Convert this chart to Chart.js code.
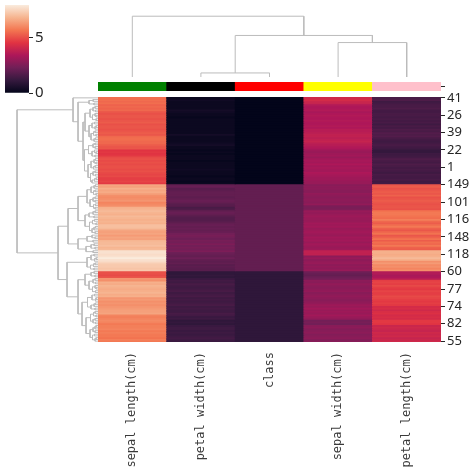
<!DOCTYPE html>
<html>
<head>
<meta charset="utf-8">
<script src="https://cdn.jsdelivr.net/npm/chart.js@4"></script>
<style>
  html, body { margin: 0; padding: 0; background: #fff; overflow: hidden; }
  canvas { position: absolute; display: block; }
</style>
</head>
<body>
<canvas id="colorbar" style="left:0;top:0"></canvas>
<canvas id="colDendro" style="left:98px;top:0"></canvas>
<canvas id="colStrip" style="left:98px;top:82px"></canvas>
<canvas id="rowDendro" style="left:0;top:97px"></canvas>
<canvas id="heatmap" style="left:98px;top:87px"></canvas>
<script>
const columns = ["sepal length(cm)", "petal width(cm)", "class", "sepal width(cm)", "petal length(cm)"];
const stripColors = ["#008000", "#000000", "#ff0000", "#ffff00", "#ffc0cb"];
const rowLabels = ["41", "26", "39", "22", "1", "149", "101", "116", "148", "118", "60", "77", "74", "82", "55"];
const colorbarTicks = [0, 5];
const valueMax = 7.9;

// rows are in the clustered order, top to bottom
const sepalLength = [
  5.5,5.5,5.4,5.5,5.3,5.4,5.3,5.4,5.1,5.0,5.1,5.1,5.0,5.1,5.2,5.0,5.1,5.1,5.0,5.1,5.2,5.1,
  5.4,5.5,5.5,5.4,5.4,5.2,5.1,5.1,4.5,4.6,4.5,4.6,4.9,5.0,4.9,5.0,4.9,5.0,5.0,4.9,5.0,4.9,4.8,4.9,4.7,4.7,4.8,4.6,
  6.5,6.4,6.7,6.5,6.6,6.4,6.1,6.0,6.1,6.2,5.9,6.0,6.1,6.7,6.8,6.9,6.8,6.7,6.9,6.8,6.7,
  6.8,6.7,7.0,7.0,6.9,6.5,6.4,6.5,6.3,6.5,6.4,6.8,6.9,6.9,7.0,6.8,6.9,7.7,7.7,7.6,7.7,7.9,7.7,7.6,7.3,7.2,7.2,7.1,7.2,
  5.0,5.0,4.9,5.1,6.2,6.1,6.7,6.6,6.8,6.7,6.6,6.7,6.8,6.6,6.7,6.2,6.3,6.1,6.2,6.1,6.2,6.3,6.4,6.4,6.5,
  5.9,5.8,5.9,6.0,5.9,5.7,5.8,5.8,5.9,5.7,5.8,5.7,5.7,5.6,5.8,5.7
];
const petalWidth = [
  0.2,0.3,0.2,0.2,0.2,0.2,0.2,0.4,0.3,0.2,0.2,0.1,0.2,0.2,0.2,0.2,0.2,0.2,0.2,0.2,
  0.2,0.4,0.2,0.2,0.2,0.2,0.3,0.4,0.2,0.2,0.1,0.2,0.1,0.2,0.2,0.2,0.1,0.2,0.2,0.2,
  0.2,0.3,0.2,0.2,0.2,0.1,0.2,0.2,0.1,0.2,
  2.0,2.1,1.8,1.9,2.0,2.0,2.0,1.9,2.0,2.1,2.0,1.8,1.8,1.5,1.6,2.0,2.1,2.0,1.8,1.7,1.7,1.8,
  2.0,2.1,2.0,2.1,2.0,2.1,2.3,2.4,2.3,2.2,2.4,2.3,2.5,2.3,2.4,2.3,2.5,2.2,2.1,2.0,2.2,2.0,1.9,2.0,1.8,1.9,1.8,1.8,
  1.0,1.0,1.1,1.0,1.2,1.4,1.3,1.5,1.4,1.3,1.4,1.5,1.3,1.4,1.5,1.3,1.4,1.3,1.4,1.5,1.3,1.4,1.3,
  1.3,1.5,1.4,1.2,1.3,1.0,1.1,1.0,1.2,1.3,1.3,1.2,1.3,1.2,1.3,1.4,1.3,1.2
];
const classValues = [
  0,0,0,0,0,0,0,0,0,0,0,0,0,0,0,0,0,0,0,0,0,0,0,0,0,0,0,0,0,0,0,0,0,0,0,0,0,0,0,0,0,0,0,0,0,0,0,0,0,0,
  2,2,2,2,2,2,2,2,2,2,2,2,2,2,2,2,2,2,2,2,2,2,2,2,2,2,2,2,2,2,2,2,2,2,2,2,2,2,2,2,2,2,2,2,2,2,2,2,2,2,
  1,1,1,1,1,1,1,1,1,1,1,1,1,1,1,1,1,1,1,1,1,1,1,1,1,1,1,1,1,1,1,1,1,1,1,1,1,1,1,1,1
];
const sepalWidth = [
  4.1,4.2,4.0,3.9,3.5,3.4,3.4,3.5,3.3,3.4,3.5,3.4,3.4,3.5,3.4,3.4,3.5,3.4,3.6,3.6,
  3.7,3.8,3.8,3.7,3.8,3.9,3.7,3.6,3.5,3.4,3.1,3.0,3.1,3.2,3.0,3.2,3.3,3.2,3.4,3.2,3.3,3.2,3.2,3.4,3.3,3.2,3.1,3.1,3.0,3.0,
  2.7,2.8,2.8,2.7,2.7,2.9,2.8,2.7,2.8,2.8,2.7,2.9,2.5,2.4,2.5,3.0,2.9,3.0,3.1,3.0,3.0,
  3.0,3.2,3.1,3.2,3.0,3.1,3.2,3.1,3.0,3.2,3.1,3.2,3.0,3.2,3.1,3.0,3.1,3.8,3.8,3.8,2.8,3.0,2.8,2.9,3.0,2.8,2.9,2.8,3.0,
  2.2,2.1,2.0,2.2,2.3,2.8,2.7,2.9,2.8,2.7,2.8,2.9,2.7,2.8,2.9,2.8,2.7,2.8,2.9,
  3.1,3.0,3.2,3.0,3.1,3.0,3.2,3.0,2.9,2.3,2.4,2.3,2.7,2.8,2.6,2.7,2.8,2.6,2.7,2.8,2.6,2.7
];
const petalLength = [
  1.5,1.6,1.3,1.4,1.5,1.5,1.6,1.4,1.4,1.5,1.5,1.4,1.5,1.4,1.5,1.3,1.5,1.4,1.6,1.5,
  1.7,1.6,1.7,1.5,1.4,1.3,1.4,1.5,1.4,1.3,1.1,1.1,1.3,1.3,1.4,1.6,1.5,1.4,1.6,1.5,
  1.4,1.5,1.4,1.3,1.5,1.4,1.4,1.5,1.3,1.4,
  5.1,5.2,5.0,5.1,5.2,5.1,5.3,5.0,5.1,5.2,5.1,5.0,5.1,5.1,5.0,5.6,5.7,5.7,
  5.6,5.5,5.8,5.4,5.2,5.5,5.7,5.3,5.1,5.4,5.6,5.1,5.3,5.6,5.2,5.5,5.4,5.7,5.3,5.2,
  6.7,6.7,6.6,6.7,6.9,6.7,6.1,6.3,6.0,6.1,5.9,6.1,
  3.5,3.5,3.3,3.4,3.6,4.7,4.8,4.7,4.9,4.7,4.6,4.8,4.7,4.7,4.9,4.8,4.7,4.6,4.7,4.6,
  4.2,4.3,4.1,4.3,4.4,4.2,4.3,4.2,4.6,4.6,4.5,4.0,4.1,4.0,3.9,4.1,4.0,4.1,3.9,4.0,4.1
];
const columnValues = [sepalLength, petalWidth, classValues, sepalWidth, petalLength];

// dendrograms: node = [merge distance, child, child], a 0 child is one leaf
const colTree = [60, 0, [41, [4, 0, 0], [34, 0, 0]]];

const setosaTree = [2.5, 0, [2.0,
  [0.9, [0.5, 0, 0], [0.4, 0, 0]],
  [1.5,
    [1.3,
      [0.8, [0.5, [0.3, 0, 0], [0.25, 0, 0]], [0.55, [0.3, 0, [0.2, 0, 0]], [0.2, 0, 0]]],
      [0.9, [0.6, [0.35, 0, 0], [0.3, [0.2, 0, 0], 0]], [0.7, [0.45, [0.3, 0, 0], [0.2, 0, 0]], [0.4, [0.25, 0, 0], 0]]]],
    [1.35,
      [0.95, [0.5, [0.3, 0, 0], [0.3, 0, 0]], [0.6, [0.35, 0, [0.2, 0, 0]], [0.3, 0, 0]]],
      [1.0, [0.7, [0.4, [0.25, 0, 0], [0.2, 0, 0]], [0.45, [0.3, 0, 0], 0]],
        [0.75, [0.5, [0.3, 0, 0], [0.25, 0, 0]], [0.6, [0.35, [0.2, 0, 0], 0], 0]]]]]]];

const virginicaTree = [3.0,
  [2.0,
    [1.1, [0.7, [0.4, [0.25, 0, 0], 0], [0.45, [0.3, 0, 0], [0.2, 0, 0]]],
      [0.8, [0.5, [0.3, 0, 0], [0.3, 0, 0]], [0.45, [0.25, 0, 0], [0.3, 0, 0]]]],
    [1.3, [0.9, [0.5, [0.3, 0, 0], 0], [0.4, 0, 0]],
      [0.85, [0.55, [0.35, 0, 0], [0.2, 0, 0]], [0.6, [0.4, [0.25, 0, 0], 0], [0.3, 0, 0]]]]],
  [2.0,
    [1.1, [0.6, 0, [0.3, 0, 0]], [0.5, 0, 0]],
    [1.2, [0.7, [0.4, 0, 0], [0.3, 0, 0]], [0.5, 0, 0]]]];

const lowerTree = [3.1,
  [1.1, [0.7, [0.4, 0, 0], [0.35, [0.2, 0, 0], 0]], [0.75, [0.45, [0.3, 0, 0], 0], [0.4, 0, 0]]],
  [2.0,
    [1.3, [0.7, [0.4, 0, 0], [0.3, 0, 0]],
      [0.9, [0.5, [0.3, 0, 0], [0.25, 0, 0]], [0.55, [0.3, 0, [0.2, 0, 0]], [0.25, 0, 0]]]],
    [1.6,
      [1.05, [0.6, [0.35, 0, 0], [0.25, [0.2, 0, 0], 0]], [0.7, [0.4, [0.25, 0, 0], 0], [0.3, 0, 0]]],
      [1.2, [0.75, [0.45, [0.3, 0, 0], [0.2, 0, 0]], [0.5, [0.3, 0, 0], [0.25, 0, 0]]],
        [0.8, [0.5, [0.3, [0.2, 0, 0], 0], [0.3, 0, 0]], [0.55, [0.35, 0, 0], [0.3, [0.2, 0, 0], 0]]]]]]];

const rowTree = [8.1, setosaTree, [4.0, virginicaTree, lowerTree]];

const rocketStops = ["#03051a", "#35193e", "#701f57", "#ad1759", "#e13342", "#f37651", "#f6b48f", "#faebdd"];
const inkColor = "#262626";
const dendroColor = "#bcbcbc";
const rowCount = sepalLength.length;

function hexToRgb(hex) {
  return [1, 3, 5].map((i) => parseInt(hex.slice(i, i + 2), 16));
}

function rocket(value) {
  const pos = Math.min(value / valueMax, 1) * (rocketStops.length - 1);
  const i = Math.min(Math.floor(pos), rocketStops.length - 2);
  const a = hexToRgb(rocketStops[i]);
  const b = hexToRgb(rocketStops[i + 1]);
  const c = a.map((v, k) => Math.round(v + (b[k] - v) * (pos - i)));
  return `rgb(${c[0]},${c[1]},${c[2]})`;
}

// walk a tree, return [position, height] pairs of every U link, NaN between links
function dendroPath(tree) {
  const path = [];
  let nextLeaf = 0.5;
  function walk(node) {
    if (node === 0) {
      nextLeaf += 1;
      return { pos: nextLeaf - 1, h: 0 };
    }
    const a = walk(node[1]);
    const b = walk(node[2]);
    path.push([a.pos, a.h], [a.pos, node[0]], [b.pos, node[0]], [b.pos, b.h], [NaN, NaN]);
    return { pos: (a.pos + b.pos) / 2, h: node[0] };
  }
  walk(tree);
  return path;
}

function setSize(id, width, height) {
  const canvas = document.getElementById(id);
  canvas.width = width;
  canvas.height = height;
  canvas.style.width = width + "px";
  canvas.style.height = height + "px";
  return canvas;
}

// fixed axis size, and no room reserved for half of the end tick labels
function fitAxis(scale, size) {
  if (scale.isHorizontal()) scale.height = size;
  else scale.width = size;
  scale.paddingTop = scale.paddingBottom = scale.paddingLeft = scale.paddingRight = 0;
}

const baseOptions = {
  responsive: false,
  animation: false,
  plugins: { legend: { display: false }, tooltip: { enabled: false } },
  layout: { padding: 0 },
};

function lineDataset(points) {
  return {
    data: points,
    showLine: true,
    pointRadius: 0,
    borderColor: dendroColor,
    borderWidth: 1,
    spanGaps: false,
    clip: false,
  };
}

// Color bar
new Chart(setSize("colorbar", 60, 110), {
  type: "bar",
  data: {
    labels: [""],
    datasets: [{
      data: [[0, valueMax]],
      barPercentage: 1,
      categoryPercentage: 1,
      backgroundColor: (ctx) => {
        const area = ctx.chart.chartArea;
        if (!area) return "#000";
        const grad = ctx.chart.ctx.createLinearGradient(0, area.bottom, 0, area.top);
        rocketStops.forEach((c, i) => grad.addColorStop(i / (rocketStops.length - 1), c));
        return grad;
      },
    }],
  },
  options: {
    ...baseOptions,
    layout: { padding: { left: 5, top: 5, bottom: 17 } },
    scales: {
      x: { display: false },
      y: {
        position: "right",
        min: 0,
        max: valueMax,
        afterFit: (s) => fitAxis(s, 31),
        afterBuildTicks: (s) => { s.ticks = colorbarTicks.map((v) => ({ value: v })); },
        grid: { drawOnChartArea: false, tickLength: 4, color: inkColor },
        border: { display: false },
        ticks: { color: inkColor, padding: 2, font: { family: "Noto Sans", size: 15 } },
      },
    },
  },
});

// Column dendrogram
new Chart(setSize("colDendro", 343, 77), {
  type: "scatter",
  data: { datasets: [lineDataset(dendroPath(colTree).map(([pos, h]) => ({ x: pos, y: h })))] },
  options: {
    ...baseOptions,
    scales: {
      x: { type: "linear", display: false, min: 0, max: columns.length },
      y: { type: "linear", display: false, min: 0, max: 76 },
    },
  },
});

// Column colour strip
new Chart(setSize("colStrip", 360, 9), {
  type: "bar",
  data: {
    labels: columns,
    datasets: [{
      data: columns.map(() => [0, 1]),
      backgroundColor: stripColors,
      barPercentage: 1,
      categoryPercentage: 1,
    }],
  },
  options: {
    ...baseOptions,
    scales: {
      x: { display: false },
      y: {
        position: "right",
        min: 0,
        max: 1,
        afterFit: (s) => fitAxis(s, 17),
        afterBuildTicks: (s) => { s.ticks = [{ value: 0.5 }]; },
        grid: { drawOnChartArea: false, tickLength: 4, color: inkColor },
        border: { display: false },
        ticks: { callback: () => "", padding: 0, font: { size: 1 } },
      },
    },
  },
});

// Row dendrogram
new Chart(setSize("rowDendro", 98, 245), {
  type: "scatter",
  data: { datasets: [lineDataset(dendroPath(rowTree).map(([pos, h]) => ({ x: h, y: pos })))] },
  options: {
    ...baseOptions,
    scales: {
      x: { type: "linear", display: false, reverse: true, min: 0, max: 9.8 },
      y: { type: "linear", display: false, reverse: true, min: 0, max: rowCount },
    },
  },
});

// Heatmap, one floating bar per cell
const heatDatasets = [];
for (let r = 0; r < rowCount; r++) {
  heatDatasets.push({
    data: columns.map(() => [r, r + 1]),
    backgroundColor: columnValues.map((col) => rocket(col[r])),
    barPercentage: 1,
    categoryPercentage: 1,
    grouped: false,
    inflateAmount: 0.4,
  });
}

new Chart(setSize("heatmap", 376, 387), {
  type: "bar",
  data: { labels: columns, datasets: heatDatasets },
  options: {
    ...baseOptions,
    layout: { padding: { top: 10 } },
    scales: {
      x: {
        type: "category",
        afterFit: (s) => fitAxis(s, 132),
        grid: { display: false, drawTicks: false },
        border: { display: false },
        ticks: {
          color: "#3a3a3a",
          minRotation: 90,
          maxRotation: 90,
          autoSkip: false,
          padding: 10,
          font: { family: "DejaVu Sans Mono", size: 12 },
        },
      },
      y: {
        type: "linear",
        position: "right",
        reverse: true,
        min: 0,
        max: rowCount,
        afterFit: (s) => fitAxis(s, 33),
        afterBuildTicks: (s) => { s.ticks = rowLabels.map((_, i) => ({ value: i * 10 + 0.5 })); },
        grid: { drawOnChartArea: false, tickLength: 4, color: inkColor },
        border: { display: false },
        ticks: {
          color: inkColor,
          autoSkip: false,
          padding: 2,
          font: { family: "Noto Sans", size: 13 },
          callback: (v) => rowLabels[Math.round((v - 0.5) / 10)],
        },
      },
    },
  },
});
</script>
</body>
</html>
